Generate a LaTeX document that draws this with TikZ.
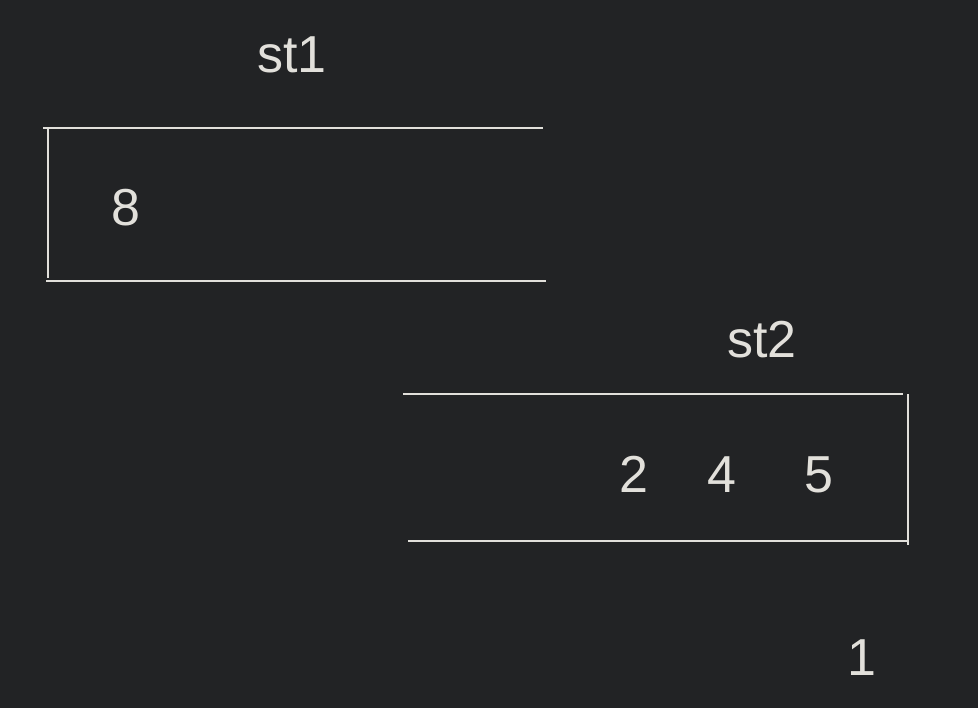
\documentclass[tikz,border=0pt]{standalone}
\usepackage{fontspec}
\setmainfont{Liberation Sans}
\definecolor{bg}{HTML}{222325}
\definecolor{fg}{HTML}{E2E0DB}
\begin{document}
\begin{tikzpicture}[x=0.75pt,y=-0.75pt,
  ln/.style={draw=fg,line width=1.6pt},
  lbl/.style={text=fg,font=\fontsize{39}{46}\selectfont,anchor=base,inner sep=0pt}]
\fill[bg] (0,0) rectangle (978,708);
\useasboundingbox (0,0) rectangle (978,708);
% stack 1
\coordinate (a1) at (43,128); \coordinate (a2) at (543,128);
\coordinate (a3) at (48,127); \coordinate (a4) at (48,278);
\coordinate (a5) at (46,281); \coordinate (a6) at (546,281);
\draw[ln] (a1) -- (a2);
\draw[ln] (a3) -- (a4);
\draw[ln] (a5) -- (a6);
\node[lbl] (st1) at (292,72) {st1};
\node[lbl] (v8) at (126,225) {8};
% stack 2
\coordinate (b1) at (403,394); \coordinate (b2) at (903,394);
\coordinate (b3) at (408,541); \coordinate (b4) at (908,541);
\coordinate (b5) at (908,394); \coordinate (b6) at (908,545);
\draw[ln] (b1) -- (b2);
\draw[ln] (b3) -- (b4);
\draw[ln] (b5) -- (b6);
\node[lbl] (st2) at (762,357) {st2};
\node[lbl] (v2) at (634,492) {2};
\node[lbl] (v4) at (722,492) {4};
\node[lbl] (v5) at (819,492) {5};
\node[lbl] (v1) at (862,675) {1};
\end{tikzpicture}
\end{document}
